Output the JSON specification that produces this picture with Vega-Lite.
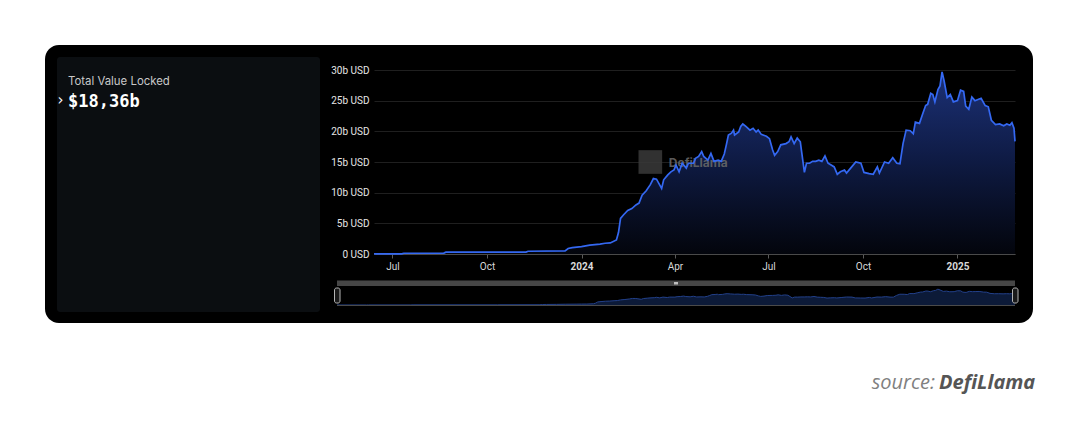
{
  "$schema": "https://vega.github.io/schema/vega-lite/v6.json",
  "width": 988,
  "height": 278,
  "autosize": {"type": "none"},
  "padding": {"left": 45, "top": 45, "right": 47, "bottom": 119},
  "background": "#ffffff",
  "config": {"view": {"fill": "#000000", "stroke": null, "cornerRadius": 14}, "font": "Inter"},
  "datasets": {
    "tvl": [
      {"date": "2023-06-13", "tvl": 0.02}, {"date": "2023-07-10", "tvl": 0.03}, {"date": "2023-07-12", "tvl": 0.12},
      {"date": "2023-08-20", "tvl": 0.15}, {"date": "2023-08-22", "tvl": 0.30}, {"date": "2023-11-08", "tvl": 0.32},
      {"date": "2023-11-10", "tvl": 0.45}, {"date": "2023-12-16", "tvl": 0.50}, {"date": "2023-12-19", "tvl": 0.90},
      {"date": "2023-12-23", "tvl": 1.05}, {"date": "2024-01-01", "tvl": 1.20}, {"date": "2024-01-09", "tvl": 1.45},
      {"date": "2024-01-19", "tvl": 1.60}, {"date": "2024-01-24", "tvl": 1.75}, {"date": "2024-01-29", "tvl": 1.80},
      {"date": "2024-02-04", "tvl": 2.30}, {"date": "2024-02-06", "tvl": 3.50}, {"date": "2024-02-08", "tvl": 5.80},
      {"date": "2024-02-11", "tvl": 6.40}, {"date": "2024-02-15", "tvl": 7.10}, {"date": "2024-02-19", "tvl": 7.40},
      {"date": "2024-02-23", "tvl": 8.00}, {"date": "2024-02-26", "tvl": 8.30}, {"date": "2024-02-29", "tvl": 9.60},
      {"date": "2024-03-04", "tvl": 10.30}, {"date": "2024-03-08", "tvl": 11.30}, {"date": "2024-03-11", "tvl": 12.30},
      {"date": "2024-03-14", "tvl": 12.20}, {"date": "2024-03-16", "tvl": 11.60}, {"date": "2024-03-19", "tvl": 10.70},
      {"date": "2024-03-21", "tvl": 12.10}, {"date": "2024-03-25", "tvl": 12.90}, {"date": "2024-03-28", "tvl": 13.40},
      {"date": "2024-03-31", "tvl": 13.70}, {"date": "2024-04-02", "tvl": 14.50}, {"date": "2024-04-05", "tvl": 13.40},
      {"date": "2024-04-08", "tvl": 14.80}, {"date": "2024-04-12", "tvl": 14.00}, {"date": "2024-04-14", "tvl": 14.80},
      {"date": "2024-04-19", "tvl": 14.80}, {"date": "2024-04-21", "tvl": 15.60}, {"date": "2024-04-24", "tvl": 15.90},
      {"date": "2024-04-27", "tvl": 16.70}, {"date": "2024-04-29", "tvl": 15.90}, {"date": "2024-05-03", "tvl": 15.30},
      {"date": "2024-05-06", "tvl": 16.40}, {"date": "2024-05-09", "tvl": 15.10}, {"date": "2024-05-13", "tvl": 15.30},
      {"date": "2024-05-16", "tvl": 15.10}, {"date": "2024-05-19", "tvl": 16.30}, {"date": "2024-05-21", "tvl": 17.80},
      {"date": "2024-05-23", "tvl": 19.40}, {"date": "2024-05-26", "tvl": 19.70}, {"date": "2024-05-28", "tvl": 20.20},
      {"date": "2024-05-29", "tvl": 19.40}, {"date": "2024-06-02", "tvl": 19.90}, {"date": "2024-06-04", "tvl": 20.80},
      {"date": "2024-06-06", "tvl": 21.20}, {"date": "2024-06-09", "tvl": 20.80}, {"date": "2024-06-13", "tvl": 20.20},
      {"date": "2024-06-16", "tvl": 20.50}, {"date": "2024-06-19", "tvl": 19.90}, {"date": "2024-06-21", "tvl": 20.20},
      {"date": "2024-06-24", "tvl": 19.50}, {"date": "2024-06-29", "tvl": 19.20}, {"date": "2024-07-02", "tvl": 18.80},
      {"date": "2024-07-05", "tvl": 17.00}, {"date": "2024-07-07", "tvl": 16.10}, {"date": "2024-07-10", "tvl": 16.70},
      {"date": "2024-07-13", "tvl": 17.80}, {"date": "2024-07-18", "tvl": 18.00}, {"date": "2024-07-21", "tvl": 18.30},
      {"date": "2024-07-23", "tvl": 19.10}, {"date": "2024-07-26", "tvl": 18.00}, {"date": "2024-07-29", "tvl": 18.90},
      {"date": "2024-08-01", "tvl": 18.30}, {"date": "2024-08-02", "tvl": 17.00}, {"date": "2024-08-05", "tvl": 13.30},
      {"date": "2024-08-07", "tvl": 14.80}, {"date": "2024-08-10", "tvl": 14.80}, {"date": "2024-08-13", "tvl": 15.10},
      {"date": "2024-08-16", "tvl": 15.10}, {"date": "2024-08-19", "tvl": 15.30}, {"date": "2024-08-22", "tvl": 15.10},
      {"date": "2024-08-25", "tvl": 16.00}, {"date": "2024-08-28", "tvl": 14.80}, {"date": "2024-08-31", "tvl": 14.50},
      {"date": "2024-09-03", "tvl": 14.20}, {"date": "2024-09-06", "tvl": 13.00}, {"date": "2024-09-09", "tvl": 13.40},
      {"date": "2024-09-13", "tvl": 13.70}, {"date": "2024-09-15", "tvl": 13.20}, {"date": "2024-09-19", "tvl": 14.00},
      {"date": "2024-09-24", "tvl": 15.00}, {"date": "2024-09-29", "tvl": 14.80}, {"date": "2024-10-02", "tvl": 13.30},
      {"date": "2024-10-07", "tvl": 13.10}, {"date": "2024-10-11", "tvl": 13.00}, {"date": "2024-10-15", "tvl": 14.20},
      {"date": "2024-10-17", "tvl": 13.20}, {"date": "2024-10-22", "tvl": 15.00}, {"date": "2024-10-26", "tvl": 14.80},
      {"date": "2024-10-30", "tvl": 15.70}, {"date": "2024-11-03", "tvl": 14.80}, {"date": "2024-11-06", "tvl": 14.70},
      {"date": "2024-11-09", "tvl": 18.00}, {"date": "2024-11-12", "tvl": 20.20}, {"date": "2024-11-16", "tvl": 20.10},
      {"date": "2024-11-19", "tvl": 19.60}, {"date": "2024-11-21", "tvl": 21.50}, {"date": "2024-11-25", "tvl": 21.30},
      {"date": "2024-11-28", "tvl": 22.80}, {"date": "2024-12-01", "tvl": 24.20}, {"date": "2024-12-03", "tvl": 24.40},
      {"date": "2024-12-06", "tvl": 26.20}, {"date": "2024-12-08", "tvl": 26.00}, {"date": "2024-12-10", "tvl": 24.80},
      {"date": "2024-12-13", "tvl": 26.80}, {"date": "2024-12-15", "tvl": 27.40}, {"date": "2024-12-17", "tvl": 29.70},
      {"date": "2024-12-19", "tvl": 28.20}, {"date": "2024-12-22", "tvl": 25.50}, {"date": "2024-12-25", "tvl": 26.00},
      {"date": "2024-12-28", "tvl": 24.80}, {"date": "2025-01-01", "tvl": 25.00}, {"date": "2025-01-04", "tvl": 26.70},
      {"date": "2025-01-07", "tvl": 26.50}, {"date": "2025-01-09", "tvl": 24.10}, {"date": "2025-01-12", "tvl": 23.60},
      {"date": "2025-01-15", "tvl": 25.60}, {"date": "2025-01-18", "tvl": 25.00}, {"date": "2025-01-21", "tvl": 25.20},
      {"date": "2025-01-24", "tvl": 25.40}, {"date": "2025-01-28", "tvl": 24.20}, {"date": "2025-01-31", "tvl": 24.00},
      {"date": "2025-02-03", "tvl": 21.80}, {"date": "2025-02-07", "tvl": 21.10}, {"date": "2025-02-11", "tvl": 21.20},
      {"date": "2025-02-15", "tvl": 20.90}, {"date": "2025-02-18", "tvl": 21.20}, {"date": "2025-02-21", "tvl": 21.00},
      {"date": "2025-02-23", "tvl": 21.40}, {"date": "2025-02-25", "tvl": 20.50}, {"date": "2025-02-26", "tvl": 18.36}
    ],
    "mark": [{"date": "2024-03-08", "tvl": 15.0, "label": "DefiLlama"}],
    "markText": [{"date": "2024-03-26", "tvl": 14.8, "label": "DefiLlama"}]
  },
  "layer": [
    {
      "data": {"values": [{}]},
      "mark": {"type": "rect", "color": "#0b0e11", "cornerRadius": 3},
      "encoding": {"x": {"value": 12}, "x2": {"value": 275}, "y": {"value": 12}, "y2": {"value": 267}}
    },
    {
      "data": {"values": [{}]},
      "mark": {"type": "text", "text": "Total Value Locked", "font": "Inter", "fontSize": 11.4, "color": "#c8c8c8", "align": "left", "baseline": "middle"},
      "encoding": {"x": {"value": 23}, "y": {"value": 36.5}}
    },
    {
      "data": {"values": [{}]},
      "mark": {"type": "text", "text": "›", "font": "DejaVu Sans", "fontSize": 15, "color": "#ffffff", "align": "left", "baseline": "middle"},
      "encoding": {"x": {"value": 12.5}, "y": {"value": 55}}
    },
    {
      "data": {"values": [{}]},
      "mark": {"type": "text", "text": "$18,36b", "font": "DejaVu Sans Mono", "fontWeight": "bold", "fontSize": 17, "color": "#ffffff", "align": "left", "baseline": "middle"},
      "encoding": {"x": {"value": 23}, "y": {"value": 56.5}}
    },
    {
      "data": {"name": "tvl"},
      "encoding": {
        "x": {
          "field": "date", "type": "temporal",
          "scale": {"type": "utc", "domain": [{"year": 2023, "month": 6, "date": 13, "utc": true}, {"year": 2025, "month": 2, "date": 26, "utc": true}], "range": [329, 970]},
          "axis": {
            "orient": "bottom", "offset": -69, "title": null, "grid": false,
            "values": [
              {"year": 2023, "month": 7, "date": 1, "utc": true}, {"year": 2023, "month": 10, "date": 1, "utc": true},
              {"year": 2024, "month": 1, "date": 1, "utc": true}, {"year": 2024, "month": 4, "date": 1, "utc": true},
              {"year": 2024, "month": 7, "date": 1, "utc": true}, {"year": 2024, "month": 10, "date": 1, "utc": true},
              {"year": 2025, "month": 1, "date": 1, "utc": true}
            ],
            "labelExpr": "utcmonth(datum.value) == 0 ? utcFormat(datum.value, '%Y') : utcFormat(datum.value, '%b')",
            "labelFontWeight": {"condition": {"test": "utcmonth(datum.value) == 0", "value": "bold"}, "value": "normal"},
            "labelFont": "Roboto", "labelFontSize": 10, "labelColor": "#d9d9d9", "labelPadding": 3,
            "domainColor": "#4a4a4a", "tickColor": "#5a5a5a", "tickSize": 4
          }
        },
        "y": {
          "field": "tvl", "type": "quantitative",
          "scale": {"domain": [0, 30], "range": [209, 25], "nice": false},
          "axis": {
            "orient": "left", "offset": -329, "title": null, "values": [0, 5, 10, 15, 20, 25, 30],
            "labelExpr": "datum.value == 0 ? '0 USD' : datum.value + 'b USD'",
            "labelFont": "Roboto", "labelFontSize": 10, "labelColor": "#e6e6e6", "labelPadding": 5,
            "ticks": false, "domain": false, "grid": true, "gridColor": "#1f1f1f", "gridWidth": 1
          }
        }
      },
      "layer": [
        {
          "mark": {
            "type": "area",
            "color": {"gradient": "linear", "x1": 0, "y1": 0, "x2": 0, "y2": 1,
              "stops": [{"offset": 0, "color": "#1c3177"}, {"offset": 0.5, "color": "#0e1a42"}, {"offset": 1, "color": "#03050c"}]}
          }
        },
        {
          "data": {"name": "mark"},
          "mark": {"type": "square", "size": 560, "color": "#3a3a3a", "opacity": 0.85}
        },
        {
          "data": {"name": "markText"},
          "mark": {"type": "text", "font": "Inter", "fontWeight": "bold", "fontSize": 12, "color": "#6a6a6a", "opacity": 0.85, "align": "left", "baseline": "middle"},
          "encoding": {"text": {"field": "label"}}
        },
        {
          "mark": {"type": "line", "color": "#3468f2", "strokeWidth": 1.7}
        }
      ]
    },
    {
      "data": {"values": [{}]},
      "mark": {"type": "rect", "color": "#464646"},
      "encoding": {"x": {"value": 292}, "x2": {"value": 970}, "y": {"value": 235.5}, "y2": {"value": 241}}
    },
    {
      "data": {"values": [{}]},
      "mark": {"type": "rect", "color": "#bdbdbd"},
      "encoding": {"x": {"value": 629}, "x2": {"value": 633}, "y": {"value": 237}, "y2": {"value": 239.5}}
    },
    {
      "data": {"name": "tvl"},
      "encoding": {
        "x": {"field": "date", "type": "temporal",
          "scale": {"type": "utc", "domain": [{"year": 2023, "month": 6, "date": 13, "utc": true}, {"year": 2025, "month": 2, "date": 26, "utc": true}], "range": [292, 970]},
          "axis": null},
        "y": {"field": "tvl", "type": "quantitative", "scale": {"domain": [0, 30], "range": [260, 244], "nice": false}, "axis": null}
      },
      "layer": [
        {"mark": {"type": "area", "color": "#0c1a38"}},
        {"mark": {"type": "line", "color": "#22408a", "strokeWidth": 1}}
      ]
    },
    {
      "data": {"values": [{}]},
      "mark": {"type": "rule", "color": "#4a4a4a", "strokeWidth": 1},
      "encoding": {"x": {"value": 292}, "x2": {"value": 970}, "y": {"value": 260.5}}
    },
    {
      "data": {"values": [{}]},
      "mark": {"type": "rect", "color": "#1a1a1a", "stroke": "#b5b5b5", "strokeWidth": 1, "cornerRadius": 2},
      "encoding": {"x": {"value": 289.5}, "x2": {"value": 295}, "y": {"value": 243}, "y2": {"value": 258}}
    },
    {
      "data": {"values": [{}]},
      "mark": {"type": "rect", "color": "#1a1a1a", "stroke": "#b5b5b5", "strokeWidth": 1, "cornerRadius": 2},
      "encoding": {"x": {"value": 967.5}, "x2": {"value": 973}, "y": {"value": 243}, "y2": {"value": 258}}
    },
    {
      "data": {"values": [{}]},
      "mark": {"type": "text", "text": "source:", "font": "Open Sans", "fontStyle": "italic", "fontSize": 20, "color": "#808080", "align": "right", "baseline": "middle"},
      "encoding": {"x": {"value": 890}, "y": {"value": 338}}
    },
    {
      "data": {"values": [{}]},
      "mark": {"type": "text", "text": "DefiLlama", "font": "Open Sans", "fontStyle": "italic", "fontWeight": "bold", "fontSize": 20, "color": "#555555", "align": "left", "baseline": "middle"},
      "encoding": {"x": {"value": 894}, "y": {"value": 338}}
    }
  ],
  "resolve": {"scale": {"x": "independent", "y": "independent"}}
}
